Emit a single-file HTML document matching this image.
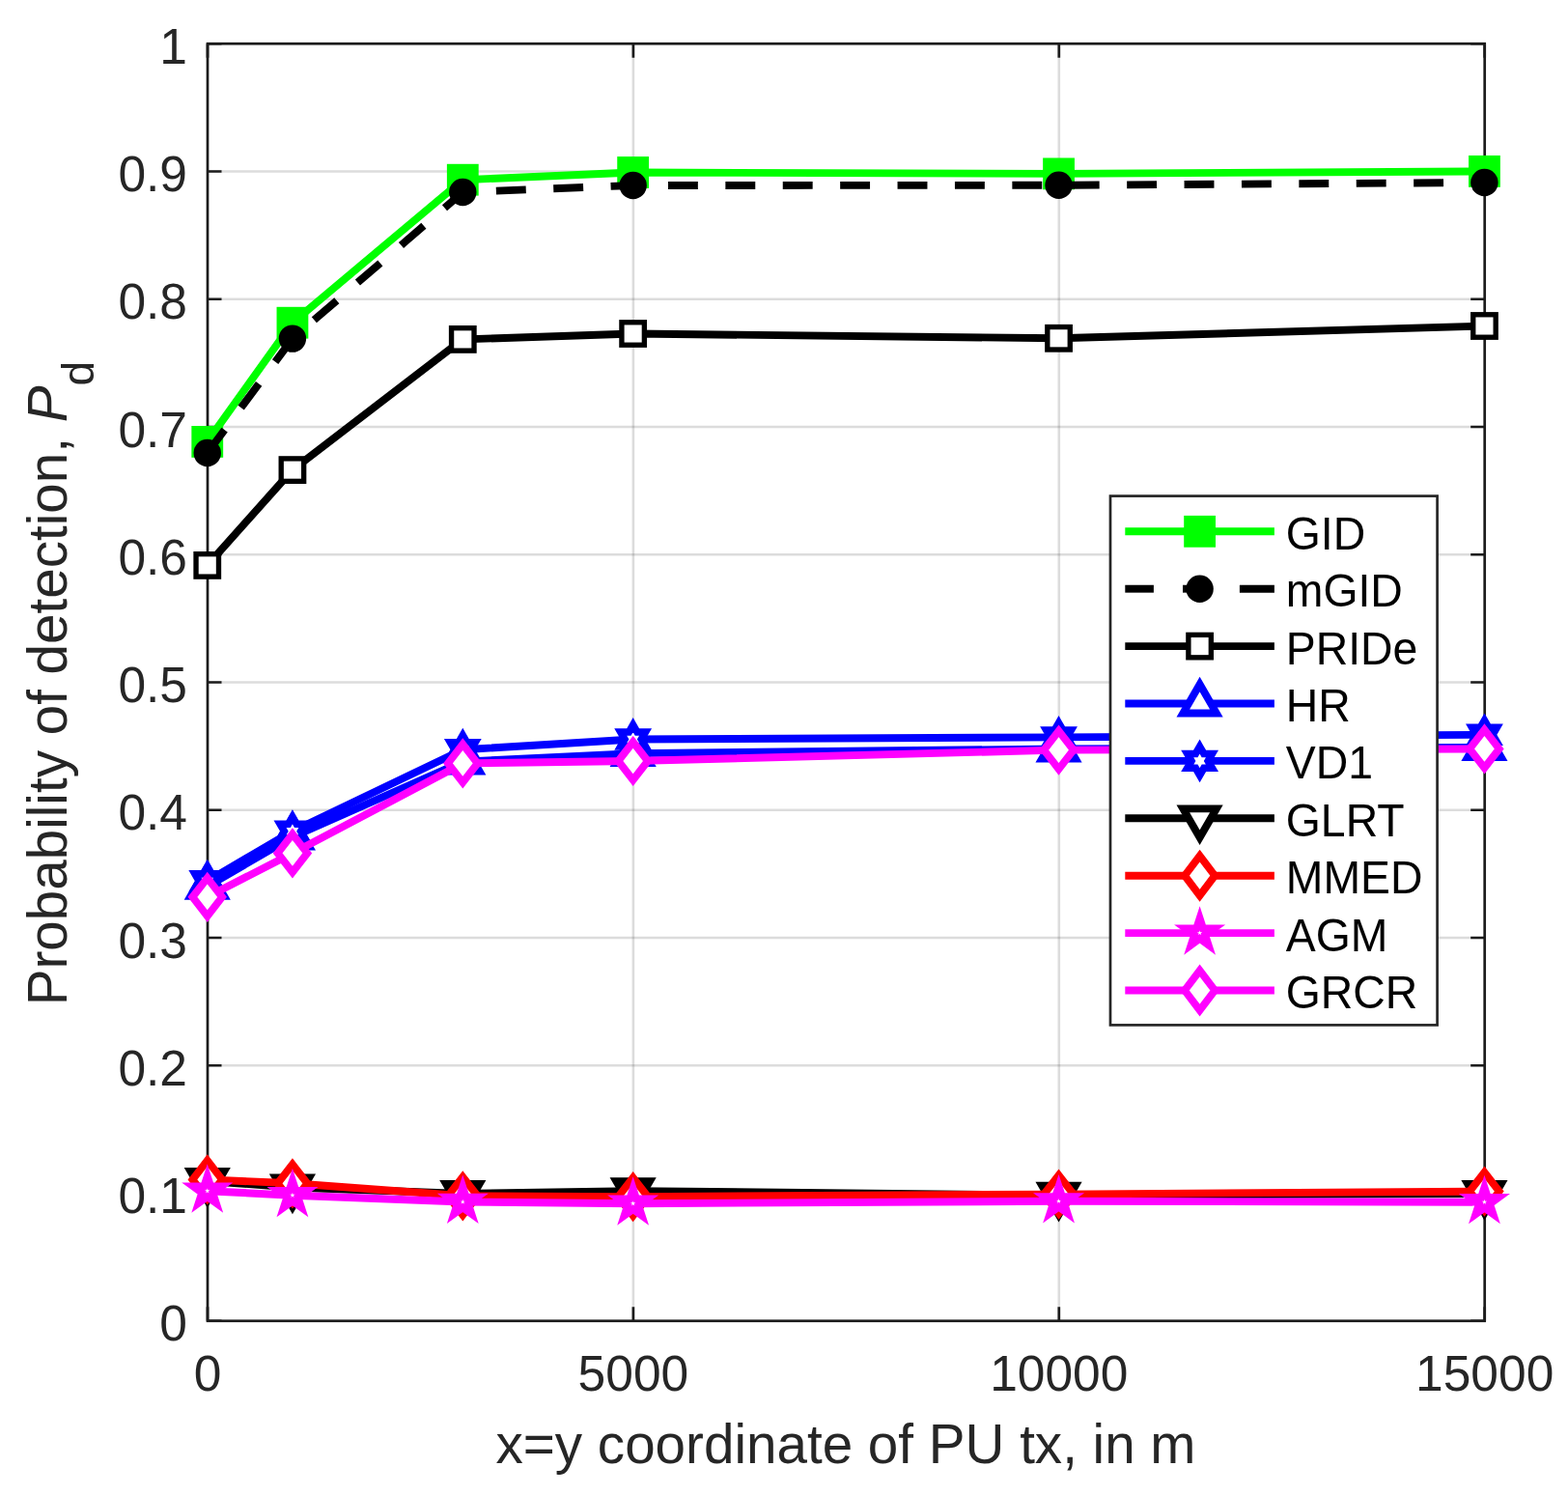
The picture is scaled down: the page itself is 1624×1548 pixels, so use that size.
<!DOCTYPE html>
<html><head><meta charset="utf-8"><title>Probability of detection</title>
<style>html,body{margin:0;padding:0;background:#fff;}svg{display:block;}</style>
</head><body>
<svg width="1624" height="1548" viewBox="0 0 1624 1548">
<rect width="1624" height="1548" fill="#fff"/>
<path d="M655.9 45.25V1367.75M1096.8 45.25V1367.75" stroke="#262626" stroke-opacity="0.16" stroke-width="2.6" fill="none"/>
<path d="M215 1235.5H1537.7M215 1103.25H1537.7M215 971H1537.7M215 838.75H1537.7M215 706.5H1537.7M215 574.25H1537.7M215 442H1537.7M215 309.75H1537.7M215 177.5H1537.7" stroke="#262626" stroke-opacity="0.16" stroke-width="2.6" fill="none"/>
<path d="M215 1367.75v-14.5M215 45.25v14.5M655.9 1367.75v-14.5M655.9 45.25v14.5M1096.8 1367.75v-14.5M1096.8 45.25v14.5M1537.7 1367.75v-14.5M1537.7 45.25v14.5M215 1367.75h14.5M1537.7 1367.75h-14.5M215 1235.5h14.5M1537.7 1235.5h-14.5M215 1103.25h14.5M1537.7 1103.25h-14.5M215 971h14.5M1537.7 971h-14.5M215 838.75h14.5M1537.7 838.75h-14.5M215 706.5h14.5M1537.7 706.5h-14.5M215 574.25h14.5M1537.7 574.25h-14.5M215 442h14.5M1537.7 442h-14.5M215 309.75h14.5M1537.7 309.75h-14.5M215 177.5h14.5M1537.7 177.5h-14.5M215 45.25h14.5M1537.7 45.25h-14.5" stroke="#1c1c1c" stroke-width="2.7" fill="none"/>
<rect x="215" y="45.25" width="1322.7" height="1322.5" fill="none" stroke="#1c1c1c" stroke-width="2.7" stroke-linejoin="miter"/>
<g font-family="Liberation Sans, Arial, sans-serif" font-size="51.5" fill="#262626"><text x="194" y="1388.35" text-anchor="end">0</text><text x="194" y="1256.1" text-anchor="end">0.1</text><text x="194" y="1123.85" text-anchor="end">0.2</text><text x="194" y="991.6" text-anchor="end">0.3</text><text x="194" y="859.35" text-anchor="end">0.4</text><text x="194" y="727.1" text-anchor="end">0.5</text><text x="194" y="594.85" text-anchor="end">0.6</text><text x="194" y="462.6" text-anchor="end">0.7</text><text x="194" y="330.35" text-anchor="end">0.8</text><text x="194" y="198.1" text-anchor="end">0.9</text><text x="194" y="65.85" text-anchor="end">1</text><text x="215" y="1440" text-anchor="middle">0</text><text x="655.9" y="1440" text-anchor="middle">5000</text><text x="1096.8" y="1440" text-anchor="middle">10000</text><text x="1537.7" y="1440" text-anchor="middle">15000</text></g>
<text x="876" y="1514.7" text-anchor="middle" font-family="Liberation Sans, Arial, sans-serif" font-size="56.6" fill="#262626">x=y coordinate of PU tx, in m</text>
<g transform="translate(69 1041.3) rotate(-90)" font-family="Liberation Sans, Arial, sans-serif" fill="#262626"><text x="0" y="0" font-size="56.6">Probability of detection, <tspan font-style="italic">P</tspan><tspan font-size="46" dy="27.9">d</tspan></text></g>
<path d="M214.75 457.4 L302.93 334.2 L479.29 186.2 L655.65 178.5 L1096.55 179.9 L1537.45 177.4" fill="none" stroke="#00ff00" stroke-width="7.9" stroke-linejoin="round"/>
<rect x="198.35" y="441" width="32.8" height="32.8" fill="#00ff00"/>
<rect x="286.53" y="317.8" width="32.8" height="32.8" fill="#00ff00"/>
<rect x="462.89" y="169.8" width="32.8" height="32.8" fill="#00ff00"/>
<rect x="639.25" y="162.1" width="32.8" height="32.8" fill="#00ff00"/>
<rect x="1080.15" y="163.5" width="32.8" height="32.8" fill="#00ff00"/>
<rect x="1521.05" y="161" width="32.8" height="32.8" fill="#00ff00"/>
<path d="M214.75 469 L302.93 350.6 L479.29 199 L655.65 192 L1096.55 191.8 L1537.45 189" fill="none" stroke="#000000" stroke-width="7.9" stroke-linejoin="round" stroke-dasharray="30.9 28.5" stroke-dashoffset="1.0"/>
<circle cx="214.75" cy="469" r="14.2" fill="#000000"/>
<circle cx="302.93" cy="350.6" r="14.2" fill="#000000"/>
<circle cx="479.29" cy="199" r="14.2" fill="#000000"/>
<circle cx="655.65" cy="192" r="14.2" fill="#000000"/>
<circle cx="1096.55" cy="191.8" r="14.2" fill="#000000"/>
<circle cx="1537.45" cy="189" r="14.2" fill="#000000"/>
<path d="M214.75 585.4 L302.93 486.6 L479.29 351.4 L655.65 345.5 L1096.55 350.3 L1537.45 337.5" fill="none" stroke="#000000" stroke-width="7.9" stroke-linejoin="round"/>
<rect x="203.03" y="573.67" width="23.45" height="23.45" fill="#fff" stroke="#000000" stroke-width="5.35"/>
<rect x="291.2" y="474.88" width="23.45" height="23.45" fill="#fff" stroke="#000000" stroke-width="5.35"/>
<rect x="467.56" y="339.67" width="23.45" height="23.45" fill="#fff" stroke="#000000" stroke-width="5.35"/>
<rect x="643.92" y="333.77" width="23.45" height="23.45" fill="#fff" stroke="#000000" stroke-width="5.35"/>
<rect x="1084.83" y="338.57" width="23.45" height="23.45" fill="#fff" stroke="#000000" stroke-width="5.35"/>
<rect x="1525.73" y="325.77" width="23.45" height="23.45" fill="#fff" stroke="#000000" stroke-width="5.35"/>
<path d="M214.75 917.8 L302.93 866.6 L479.29 788.6 L655.65 780.1 L1096.55 775.5 L1537.45 774" fill="none" stroke="#0000ff" stroke-width="7.9" stroke-linejoin="round"/>
<polygon points="214.75,897.8 232.07,927.8 197.43,927.8" fill="#fff" stroke="#0000ff" stroke-width="7.8"/>
<polygon points="302.93,846.6 320.25,876.6 285.61,876.6" fill="#fff" stroke="#0000ff" stroke-width="7.8"/>
<polygon points="479.29,768.6 496.61,798.6 461.97,798.6" fill="#fff" stroke="#0000ff" stroke-width="7.8"/>
<polygon points="655.65,760.1 672.97,790.1 638.33,790.1" fill="#fff" stroke="#0000ff" stroke-width="7.8"/>
<polygon points="1096.55,755.5 1113.87,785.5 1079.23,785.5" fill="#fff" stroke="#0000ff" stroke-width="7.8"/>
<polygon points="1537.45,754 1554.77,784 1520.13,784" fill="#fff" stroke="#0000ff" stroke-width="7.8"/>
<path d="M214.75 912.3 L302.93 860.7 L479.29 776.2 L655.65 765.5 L1096.55 763.4 L1537.45 760.8" fill="none" stroke="#0000ff" stroke-width="7.9" stroke-linejoin="round"/>
<polygon points="214.75,897.45 219.04,904.88 227.61,904.88 223.32,912.3 227.61,919.72 219.04,919.72 214.75,927.15 210.46,919.72 201.89,919.72 206.18,912.3 201.89,904.88 210.46,904.88" fill="#fff" stroke="#0000ff" stroke-width="7.55"/>
<polygon points="302.93,845.85 307.22,853.28 315.79,853.28 311.5,860.7 315.79,868.12 307.22,868.12 302.93,875.55 298.64,868.12 290.07,868.12 294.36,860.7 290.07,853.28 298.64,853.28" fill="#fff" stroke="#0000ff" stroke-width="7.55"/>
<polygon points="479.29,761.35 483.58,768.78 492.15,768.78 487.86,776.2 492.15,783.62 483.58,783.62 479.29,791.05 475,783.62 466.43,783.62 470.72,776.2 466.43,768.78 475,768.78" fill="#fff" stroke="#0000ff" stroke-width="7.55"/>
<polygon points="655.65,750.65 659.94,758.08 668.51,758.08 664.22,765.5 668.51,772.92 659.94,772.92 655.65,780.35 651.36,772.92 642.79,772.92 647.08,765.5 642.79,758.08 651.36,758.08" fill="#fff" stroke="#0000ff" stroke-width="7.55"/>
<polygon points="1096.55,748.55 1100.84,755.98 1109.41,755.98 1105.12,763.4 1109.41,770.82 1100.84,770.82 1096.55,778.25 1092.26,770.82 1083.69,770.82 1087.98,763.4 1083.69,755.98 1092.26,755.98" fill="#fff" stroke="#0000ff" stroke-width="7.55"/>
<polygon points="1537.45,745.95 1541.74,753.38 1550.31,753.38 1546.02,760.8 1550.31,768.22 1541.74,768.22 1537.45,775.65 1533.16,768.22 1524.59,768.22 1528.88,760.8 1524.59,753.38 1533.16,753.38" fill="#fff" stroke="#0000ff" stroke-width="7.55"/>
<path d="M214.75 1223 L302.93 1229.5 L479.29 1235.9 L655.65 1233.1 L1096.55 1237.7 L1537.45 1236" fill="none" stroke="#000000" stroke-width="7.9" stroke-linejoin="round"/>
<polygon points="214.75,1243 232.07,1213 197.43,1213" fill="#fff" stroke="#000000" stroke-width="7.8"/>
<polygon points="302.93,1249.5 320.25,1219.5 285.61,1219.5" fill="#fff" stroke="#000000" stroke-width="7.8"/>
<polygon points="479.29,1255.9 496.61,1225.9 461.97,1225.9" fill="#fff" stroke="#000000" stroke-width="7.8"/>
<polygon points="655.65,1253.1 672.97,1223.1 638.33,1223.1" fill="#fff" stroke="#000000" stroke-width="7.8"/>
<polygon points="1096.55,1257.7 1113.87,1227.7 1079.23,1227.7" fill="#fff" stroke="#000000" stroke-width="7.8"/>
<polygon points="1537.45,1256 1554.77,1226 1520.13,1226" fill="#fff" stroke="#000000" stroke-width="7.8"/>
<path d="M214.75 1221.4 L302.93 1225.3 L479.29 1238.3 L655.65 1239.1 L1096.55 1236.6 L1537.45 1233.6" fill="none" stroke="#ff0000" stroke-width="7.9" stroke-linejoin="round"/>
<polygon points="214.75,1201.65 230.05,1221.4 214.75,1241.15 199.45,1221.4" fill="#fff" stroke="#ff0000" stroke-width="7.8"/>
<polygon points="302.93,1205.55 318.23,1225.3 302.93,1245.05 287.63,1225.3" fill="#fff" stroke="#ff0000" stroke-width="7.8"/>
<polygon points="479.29,1218.55 494.59,1238.3 479.29,1258.05 463.99,1238.3" fill="#fff" stroke="#ff0000" stroke-width="7.8"/>
<polygon points="655.65,1219.35 670.95,1239.1 655.65,1258.85 640.35,1239.1" fill="#fff" stroke="#ff0000" stroke-width="7.8"/>
<polygon points="1096.55,1216.85 1111.85,1236.6 1096.55,1256.35 1081.25,1236.6" fill="#fff" stroke="#ff0000" stroke-width="7.8"/>
<polygon points="1537.45,1213.85 1552.75,1233.6 1537.45,1253.35 1522.15,1233.6" fill="#fff" stroke="#ff0000" stroke-width="7.8"/>
<path d="M214.75 1233.2 L302.93 1237.7 L479.29 1244.5 L655.65 1246.2 L1096.55 1243.8 L1537.45 1244.7" fill="none" stroke="#ff00ff" stroke-width="7.9" stroke-linejoin="round"/>
<polygon points="214.75,1217.9 218.19,1228.47 229.3,1228.47 220.31,1235.01 223.74,1245.58 214.75,1239.04 205.76,1245.58 209.19,1235.01 200.2,1228.47 211.31,1228.47" fill="#fff" stroke="#ff00ff" stroke-width="7.8"/>
<polygon points="302.93,1222.4 306.37,1232.97 317.48,1232.97 308.49,1239.51 311.92,1250.08 302.93,1243.54 293.94,1250.08 297.37,1239.51 288.38,1232.97 299.49,1232.97" fill="#fff" stroke="#ff00ff" stroke-width="7.8"/>
<polygon points="479.29,1229.2 482.73,1239.77 493.84,1239.77 484.85,1246.31 488.28,1256.88 479.29,1250.34 470.3,1256.88 473.73,1246.31 464.74,1239.77 475.85,1239.77" fill="#fff" stroke="#ff00ff" stroke-width="7.8"/>
<polygon points="655.65,1230.9 659.09,1241.47 670.2,1241.47 661.21,1248.01 664.64,1258.58 655.65,1252.04 646.66,1258.58 650.09,1248.01 641.1,1241.47 652.21,1241.47" fill="#fff" stroke="#ff00ff" stroke-width="7.8"/>
<polygon points="1096.55,1228.5 1099.99,1239.07 1111.1,1239.07 1102.11,1245.61 1105.54,1256.18 1096.55,1249.64 1087.56,1256.18 1090.99,1245.61 1082,1239.07 1093.11,1239.07" fill="#fff" stroke="#ff00ff" stroke-width="7.8"/>
<polygon points="1537.45,1229.4 1540.89,1239.97 1552,1239.97 1543.01,1246.51 1546.44,1257.08 1537.45,1250.54 1528.46,1257.08 1531.89,1246.51 1522.9,1239.97 1534.01,1239.97" fill="#fff" stroke="#ff00ff" stroke-width="7.8"/>
<path d="M214.75 928.8 L302.93 883.4 L479.29 790.4 L655.65 788 L1096.55 776.6 L1537.45 775.4" fill="none" stroke="#ff00ff" stroke-width="7.9" stroke-linejoin="round"/>
<polygon points="214.75,909.05 230.05,928.8 214.75,948.55 199.45,928.8" fill="#fff" stroke="#ff00ff" stroke-width="7.8"/>
<polygon points="302.93,863.65 318.23,883.4 302.93,903.15 287.63,883.4" fill="#fff" stroke="#ff00ff" stroke-width="7.8"/>
<polygon points="479.29,770.65 494.59,790.4 479.29,810.15 463.99,790.4" fill="#fff" stroke="#ff00ff" stroke-width="7.8"/>
<polygon points="655.65,768.25 670.95,788 655.65,807.75 640.35,788" fill="#fff" stroke="#ff00ff" stroke-width="7.8"/>
<polygon points="1096.55,756.85 1111.85,776.6 1096.55,796.35 1081.25,776.6" fill="#fff" stroke="#ff00ff" stroke-width="7.8"/>
<polygon points="1537.45,755.65 1552.75,775.4 1537.45,795.15 1522.15,775.4" fill="#fff" stroke="#ff00ff" stroke-width="7.8"/>
<rect x="1150" y="513.6" width="338.6" height="547.8" fill="#fff" stroke="#262626" stroke-width="2.7"/>
<path d="M1165.3 550.3H1319.9" stroke="#00ff00" stroke-width="7.9"/>
<rect x="1226.2" y="533.9" width="32.8" height="32.8" fill="#00ff00"/>
<path d="M1165.3 609.7H1194.9" stroke="#000000" stroke-width="7.9"/>
<path d="M1225 609.7H1254.6" stroke="#000000" stroke-width="7.9"/>
<path d="M1283.9 609.7H1319.9" stroke="#000000" stroke-width="7.9"/>
<circle cx="1242.6" cy="609.7" r="14.2" fill="#000000"/>
<path d="M1165.3 669.1H1319.9" stroke="#000000" stroke-width="7.9"/>
<rect x="1230.88" y="657.37" width="23.45" height="23.45" fill="#fff" stroke="#000000" stroke-width="5.35"/>
<path d="M1165.3 728.5H1319.9" stroke="#0000ff" stroke-width="7.9"/>
<polygon points="1242.6,708.5 1259.92,738.5 1225.28,738.5" fill="#fff" stroke="#0000ff" stroke-width="7.8"/>
<path d="M1165.3 787.9H1319.9" stroke="#0000ff" stroke-width="7.9"/>
<polygon points="1242.6,773.05 1246.89,780.48 1255.46,780.48 1251.17,787.9 1255.46,795.32 1246.89,795.32 1242.6,802.75 1238.31,795.32 1229.74,795.32 1234.03,787.9 1229.74,780.48 1238.31,780.48" fill="#fff" stroke="#0000ff" stroke-width="7.55"/>
<path d="M1165.3 847.3H1319.9" stroke="#000000" stroke-width="7.9"/>
<polygon points="1242.6,867.3 1259.92,837.3 1225.28,837.3" fill="#fff" stroke="#000000" stroke-width="7.8"/>
<path d="M1165.3 906.7H1319.9" stroke="#ff0000" stroke-width="7.9"/>
<polygon points="1242.6,886.15 1258.2,906.7 1242.6,927.25 1227,906.7" fill="#fff" stroke="#ff0000" stroke-width="7.8"/>
<path d="M1165.3 966.1H1319.9" stroke="#ff00ff" stroke-width="7.9"/>
<polygon points="1242.6,950.8 1246.04,961.37 1257.15,961.37 1248.16,967.91 1251.59,978.48 1242.6,971.94 1233.61,978.48 1237.04,967.91 1228.05,961.37 1239.16,961.37" fill="#fff" stroke="#ff00ff" stroke-width="7.8"/>
<path d="M1165.3 1025.5H1319.9" stroke="#ff00ff" stroke-width="7.9"/>
<polygon points="1242.6,1004.95 1258.2,1025.5 1242.6,1046.05 1227,1025.5" fill="#fff" stroke="#ff00ff" stroke-width="7.8"/>
<g font-family="Liberation Sans, Arial, sans-serif" font-size="48.4" fill="#000"><text transform="translate(1331.8 568.7) scale(0.958 1)">GID</text><text transform="translate(1331.8 628.1) scale(0.958 1)">mGID</text><text transform="translate(1331.8 687.5) scale(0.958 1)">PRIDe</text><text transform="translate(1331.8 746.9) scale(0.958 1)">HR</text><text transform="translate(1331.8 806.3) scale(0.958 1)">VD1</text><text transform="translate(1331.8 865.7) scale(0.958 1)">GLRT</text><text transform="translate(1331.8 925.1) scale(0.958 1)">MMED</text><text transform="translate(1331.8 984.5) scale(0.958 1)">AGM</text><text transform="translate(1331.8 1043.9) scale(0.958 1)">GRCR</text></g>
</svg>
</body></html>
